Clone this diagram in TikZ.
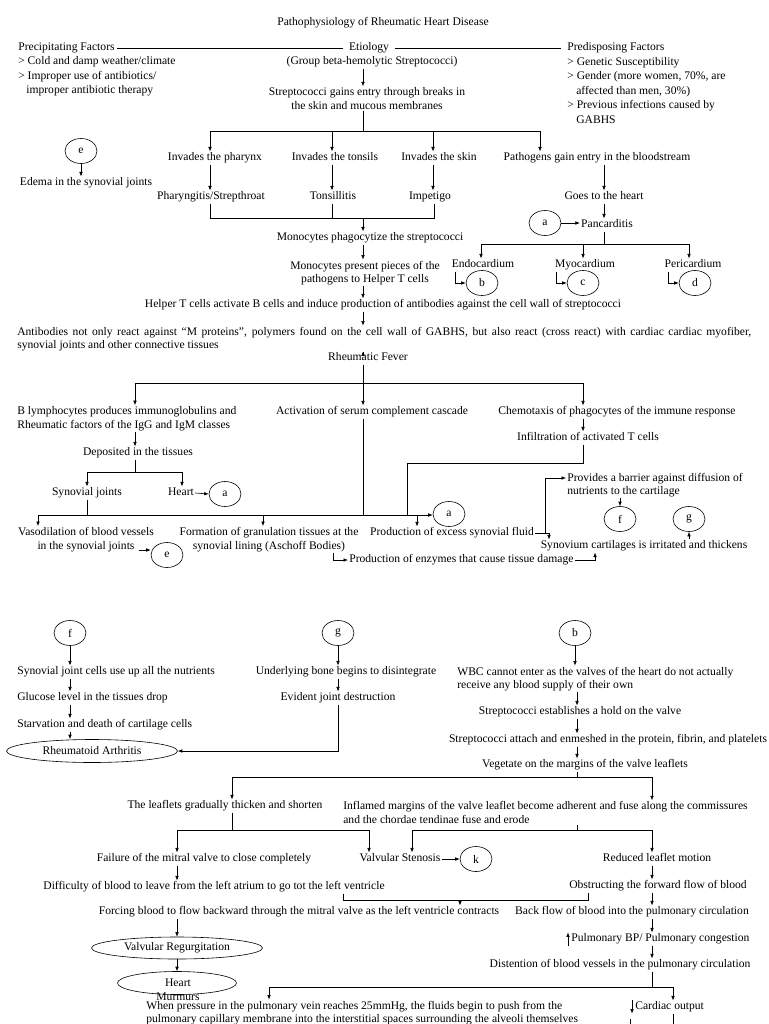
\documentclass[tikz,border=0pt]{standalone}
\usepackage{fontspec}
\setmainfont{Liberation Serif}
\usetikzlibrary{arrows.meta,shapes.geometric}
\newcommand\diafont{\fontsize{11.6}{13.5}\selectfont}
\newcommand\listfont{\fontsize{11.6}{14.5}\selectfont}
\begin{document}
\begin{tikzpicture}[x=1pt,y=-1pt,
  every path/.style={line width=0.6pt},
  t/.style={inner sep=1pt, font=\diafont, text height=8pt, text depth=2.5pt},
  m/.style={inner sep=1pt, font=\diafont, align=center},
  ml/.style={inner sep=1pt, font=\diafont, align=left},
  lst/.style={inner sep=1pt, font=\listfont, align=left},
  circ/.style={draw, ellipse, minimum width=32pt, minimum height=25pt, inner sep=0pt, font=\diafont},
  arr/.style={-{Latex[length=4.5pt,width=3.6pt]}}]
\fill[white] (0,0) rectangle (768,1024);
\useasboundingbox (0,0) rectangle (768,1024);

% ---------- top ----------
\node[t] (title) at (383,23) {Pathophysiology of Rheumatic Heart Disease};
\node[t,anchor=west] (precip) at (17,48) {Precipitating Factors};
\node[lst,anchor=west] (preclist) at (17,76.5) {> Cold and damp weather/climate\\> Improper use of antibiotics/\\\hspace*{8pt}improper antibiotic therapy};
\node[t] (etio) at (369,48) {Etiology};
\node[t] (group) at (372,62) {(Group beta-hemolytic Streptococci)};
\node[t,anchor=west] (predisp) at (566,48) {Predisposing Factors};
\node[lst,anchor=west] (predlist) at (566,90.5) {> Genetic Susceptibility\\> Gender (more women, 70\%, are\\\hspace*{9pt}affected than men, 30\%)\\> Previous infections caused by\\\hspace*{9pt}GABHS};
\draw[shorten <=1pt, shorten >=5pt] (precip.east) -- (etio.west);
\draw[shorten <=5pt, shorten >=5pt] (etio.east) -- (predisp.west);
\node[m] (strep) at (367,98.5) {Streptococci gains entry through breaks in\\the skin and mucous membranes};
\draw[arr] (group.south -| 363,0) -- (strep.north -| 363,0);
\draw (strep.south -| 363,0) -- (363,131);
\draw (210,131) -- (540,131);

\node[t] (pharynx) at (215,158) {Invades the pharynx};
\node[t] (tonsils) at (335,158) {Invades the tonsils};
\node[t] (skin) at (439,158) {Invades the skin};
\node[t] (blood) at (597,158) {Pathogens gain entry in the bloodstream};
\draw[arr] (210,131) -- (pharynx.north -| 210,0);
\draw[arr] (332,131) -- (tonsils.north -| 332,0);
\draw[arr] (433,131) -- (skin.north -| 433,0);
\draw[arr] (540,131) -- (blood.north -| 540,0);

\node[circ] (e1) at (81,151) {e};
\node[t] (edema) at (86,183) {Edema in the synovial joints};
\draw[arr] (e1.south) -- (edema.north -| e1.south);

\node[t] (pharyngitis) at (211,197) {Pharyngitis/Strepthroat};
\node[t] (tonsillitis) at (333,197) {Tonsillitis};
\node[t] (impetigo) at (430,197) {Impetigo};
\node[t] (goesheart) at (604,197) {Goes to the heart};
\draw[arr] (pharynx.south -| 210,0) -- (pharyngitis.north -| 210,0);
\draw[arr] (tonsils.south -| 332,0) -- (tonsillitis.north -| 332,0);
\draw[arr] (skin.south -| 433,0) -- (impetigo.north -| 433,0);
\draw[arr] (blood.south -| 604,0) -- (goesheart.north -| 604,0);
\draw (pharyngitis.south -| 210,0) -- (210,218) -- (434,218) -- (impetigo.south -| 434,0);
\draw (tonsillitis.south -| 332,0) -- (332,218);

\node[t] (monophag) at (370,238) {Monocytes phagocytize the streptococci};
\node[m] (monopres) at (365,273) {Monocytes present pieces of the\\pathogens to Helper T cells};
\node[t] (helper) at (383,305) {Helper T cells activate B cells and induce production of antibodies against the cell wall of streptococci};
\draw[arr] (363,218) -- (monophag.north -| 363,0);
\draw[arr] (monophag.south -| 363,0) -- (monopres.north -| 363,0);
\draw[arr] (monopres.south -| 363,0) -- (helper.north -| 363,0);

% heart branch
\node[circ] (a1) at (545,223) {a};
\node[t] (pancarditis) at (607,225) {Pancarditis};
\draw[arr] (goesheart.south -| 604,0) -- (pancarditis.north -| 604,0);
\draw[arr] (a1.east) -- (pancarditis.west |- a1.east);
\draw (pancarditis.south -| 604,0) -- (604,244);
\draw (481,244) -- (689,244);
\node[t] (endo) at (483,265) {Endocardium};
\node[t] (myo) at (585,265) {Myocardium};
\node[t] (peri) at (693,265) {Pericardium};
\draw[arr] (481,244) -- (endo.north -| 481,0);
\draw[arr] (583,244) -- (myo.north -| 583,0);
\draw[arr] (689,244) -- (peri.north -| 689,0);
\node[circ] (b1) at (482,283) {b};
\node[circ] (c1) at (583,283) {c};
\node[circ] (d1) at (695,283) {d};
\draw[arr] (endo.south -| 455,0) |- (b1.west);
\draw[arr] (myo.south -| 556,0) |- (c1.west);
\draw[arr] (peri.south -| 668,0) |- (d1.west);

\node[ml,anchor=west] (antibodies) at (16,339) {\makebox[734pt][s]{Antibodies not only react against “M proteins”, polymers found on the cell wall of GABHS, but also react (cross react) with cardiac cardiac myofiber,}\\synovial joints and other connective tissues};
\draw[arr] (helper.south -| 363,0) -- (antibodies.north -| 363,0);
\node[t] (rf) at (368,358) {Rheumatic Fever};
\draw[arr] (antibodies.south -| 363,0) -- (rf.north -| 363,0);
\draw (rf.south -| 363,0) -- (363,383);
\draw (135,383) -- (583,383);

\node[ml,anchor=west] (blymph) at (16,418.5) {B lymphocytes produces immunoglobulins and\\Rheumatic factors of the IgG and IgM classes};
\node[t] (activation) at (372,412) {Activation of serum complement cascade};
\node[t] (chemotaxis) at (617,412) {Chemotaxis of phagocytes of the immune response};
\draw[arr] (135,383) -- (blymph.north -| 135,0);
\draw[arr] (363,383) -- (activation.north -| 363,0);
\draw[arr] (583,383) -- (chemotaxis.north -| 583,0);
\node[t] (infiltration) at (588,438) {Infiltration of activated T cells};
\draw[arr] (chemotaxis.south -| 583,0) -- (infiltration.north -| 583,0);

\node[t] (deposited) at (138,453) {Deposited in the tissues};
\draw[arr] (blymph.south -| 135,0) -- (deposited.north -| 135,0);
\draw (deposited.south -| 135,0) -- (135,472);
\draw (87,472) -- (182,472);
\node[t] (synjoints) at (87,493) {Synovial joints};
\node[t] (heart) at (181,493) {Heart};
\node[circ] (a2) at (225,494) {a};
\draw[arr] (87,472) -- (synjoints.north -| 87,0);
\draw[arr] (182,472) -- (heart.north -| 182,0);
\draw[arr] (heart.east) -- (a2.west);

\node[ml,anchor=west] (provides) at (566,485) {Provides a barrier against diffusion of\\nutrients to the cartilage};
\node[circ] (a3) at (449,514) {a};
\node[m] (vaso) at (86,539.5) {Vasodilation of blood vessels\\in the synovial joints};
\node[m] (formation) at (269,539.5) {Formation of granulation tissues at the\\synovial lining (Aschoff Bodies)};
\node[t] (fluid) at (452,533) {Production of excess synovial fluid};
\node[circ] (e2) at (167,555) {e};
\node[t,anchor=west] (enzymes) at (348,560) {Production of enzymes that cause tissue damage};
\node[t] (synovium) at (644,546) {Synovium cartilages is irritated and thickens};
\node[circ] (f1) at (620,519) {f};
\node[circ] (g1) at (689,519) {g};

\draw (synjoints.south -| 87,0) -- (87,515);
\draw (activation.south -| 363,0) -- (363,515);
\draw (infiltration.south -| 583,0) -- (583,463) -- (407,463) -- (407,515);
\draw[arr] (38,515) -- (a3.west |- 38,515);
\draw[arr] (38,515) -- (vaso.north -| 38,0);
\draw[arr] (263,515) -- (formation.north -| 263,0);
\draw[arr] (417,515) -- (fluid.north -| 417,0);
\draw[arr] (139,550) -- (e2.west |- 139,550);
\draw[arr] (formation.south -| 333,0) |- (enzymes.west);
\draw[arr] (enzymes.east) -| (synovium.south -| 595,0);
\draw[arr] (fluid.east) -| (synovium.north -| 549,0);
\draw[arr] (545,0 |- fluid.east) -- (545,478) -- (provides.west |- 0,478);
\draw[arr] (provides.south -| f1.north) -- (f1.north);
\draw[arr] (synovium.north -| g1.south) -- (g1.south);

% ---------- bottom ----------
\node[circ] (f2) at (70,633) {f};
\node[circ] (g2) at (338,633) {g};
\node[circ] (b2) at (575,633) {b};
\node[t,anchor=west] (synuse) at (16,672) {Synovial joint cells use up all the nutrients};
\node[t,anchor=west] (glucose) at (16,698) {Glucose level in the tissues drop};
\node[t,anchor=west] (starv) at (16,725) {Starvation and death of cartilage cells};
\node[draw,ellipse,minimum width=171pt,minimum height=23pt,inner sep=0pt,font=\diafont] (ra) at (92,751) {Rheumatoid Arthritis};
\draw[arr] (f2.south) -- (synuse.north -| f2.south);
\draw[arr] (synuse.south -| 70,0) -- (glucose.north -| 70,0);
\draw[arr] (glucose.south -| 70,0) -- (starv.north -| 70,0);
\draw[arr] (starv.south -| 70,0) -- (ra.north -| 70,0);

\node[t] (bone) at (346,672) {Underlying bone begins to disintegrate};
\node[t] (evident) at (338,698) {Evident joint destruction};
\draw[arr] (g2.south) -- (bone.north -| g2.south);
\draw[arr] (bone.south -| 338,0) -- (evident.north -| 338,0);
\draw[arr] (evident.south -| 338,0) |- (ra.east);

\node[ml,anchor=west] (wbc) at (456,679) {WBC cannot enter as the valves of the heart do not actually\\receive any blood supply of their own};
\node[t] (hold) at (580,712) {Streptococci establishes a hold on the valve};
\node[t] (attach) at (608,740) {Streptococci attach and enmeshed in the protein, fibrin, and platelets};
\node[t] (vegetate) at (585,765) {Vegetate on the margins of the valve leaflets};
\draw[arr] (b2.south) -- (wbc.north -| b2.south);
\draw[arr] (wbc.south -| 577,0) -- (hold.north -| 577,0);
\draw[arr] (hold.south -| 577,0) -- (attach.north -| 577,0);
\draw[arr] (attach.south -| 577,0) -- (vegetate.north -| 577,0);
\draw (vegetate.south -| 577,0) -- (577,777);
\draw (232,777) -- (652,777);

\node[t] (leaflets) at (225,806) {The leaflets gradually thicken and shorten};
\node[ml,anchor=west] (inflamed) at (342,812.5) {Inflamed margins of the valve leaflet become adherent and fuse along the commissures\\and the chordae tendinae fuse and erode};
\draw[arr] (232,777) -- (leaflets.north -| 232,0);
\draw[arr] (652,777) -- (inflamed.north -| 652,0);
\draw (leaflets.south -| 232,0) -- (232,830);
\draw (177,830) -- (369,830);
\draw (inflamed.south -| 577,0) -- (577,830);
\draw (412,830) -- (652,830);

\node[t] (failure) at (204,859) {Failure of the mitral valve to close completely};
\node[t] (stenosis) at (400,859) {Valvular Stenosis};
\node[circ] (k) at (476,859) {k};
\node[t] (reduced) at (657,859) {Reduced leaflet motion};
\draw[arr] (177,830) -- (failure.north -| 177,0);
\draw[arr] (369,830) -- (stenosis.north -| 369,0);
\draw[arr] (412,830) -- (stenosis.north -| 412,0);
\draw[arr] (652,830) -- (reduced.north -| 652,0);
\draw[arr] (stenosis.east) -- (k.west);

\node[t] (difficulty) at (214,887) {Difficulty of blood to leave from the left atrium to go tot the left ventricle};
\node[t] (obstruct) at (658,886) {Obstructing the forward flow of blood};
\draw[arr] (failure.south -| 177,0) -- (difficulty.north -| 177,0);
\draw[arr] (reduced.south -| 652,0) -- (obstruct.north -| 652,0);

\node[t] (forcing) at (299,912) {Forcing blood to flow backward through the mitral valve as the left ventricle contracts};
\node[t] (backflow) at (632,912) {Back flow of blood into the pulmonary circulation};
\draw (difficulty.south -| 343,0) -- (343,900) -- (588,900) -- (obstruct.south -| 588,0);
\draw[arr] (460,900) -- (forcing.north -| 460,0);
\draw[arr] (obstruct.south -| 652,0) -- (backflow.north -| 652,0);

\node[draw,ellipse,minimum width=171pt,minimum height=22pt,inner sep=0pt,font=\diafont] (vr) at (177,948) {Valvular Regurgitation};
\node[draw,ellipse,minimum width=119pt,minimum height=23pt,inner sep=0pt] (hm) at (177,983) {};
\node[m] (hmtext) at (178,989.5) {Heart\\Murmurs};
\draw[arr] (forcing.south -| vr.north) -- (vr.north);
\draw[arr] (vr.south) -- (hm.north);

\node[t,anchor=west] (pbp) at (570,939) {Pulmonary BP/ Pulmonary congestion};
\node[t] (distention) at (620,965) {Distention of blood vessels in the pulmonary circulation};
\draw[arr] (backflow.south -| 652,0) -- (pbp.north -| 652,0);
\draw[arr] (pbp.south -| 652,0) -- (distention.north -| 652,0);
\draw[arr] ([xshift=-2pt]pbp.south west) -- ([xshift=-2pt]pbp.north west);
\draw (distention.south -| 652,0) -- (652,987);
\draw (269,987) -- (673,987);

\node[ml,anchor=west] (whenp) at (145,1013) {When pressure in the pulmonary vein reaches 25mmHg, the fluids begin to push from the\\pulmonary capillary membrane into the interstitial spaces surrounding the alveoli themselves};
\node[t,anchor=west] (cardiac) at (634,1007) {Cardiac output};
\draw[arr] (269,987) -- (whenp.north -| 269,0);
\draw[arr] (673,987) -- (cardiac.north -| 673,0);
\draw[arr] ([xshift=-2pt]cardiac.north west) -- ([xshift=-2pt]cardiac.south west);
\coordinate (bot1) at (673,1024);
\coordinate (bot2) at (630,1024);
\draw (cardiac.south -| bot1) -- (bot1);
\draw (630,1019) -- (bot2);
\end{tikzpicture}
\end{document}
